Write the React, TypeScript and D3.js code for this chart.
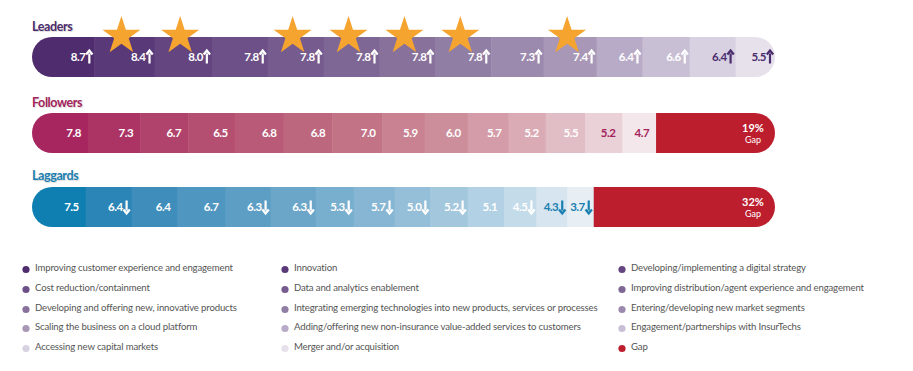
import React from "react";
import * as d3 from "d3";

const categories = [
  "Improving customer experience and engagement",
  "Innovation",
  "Developing/implementing a digital strategy",
  "Cost reduction/containment",
  "Data and analytics enablement",
  "Improving distribution/agent experience and engagement",
  "Developing and offering new, innovative products",
  "Integrating emerging technologies into new products, services or processes",
  "Entering/developing new market segments",
  "Scaling the business on a cloud platform",
  "Adding/offering new non-insurance value-added services to customers",
  "Engagement/partnerships with InsurTechs",
  "Accessing new capital markets",
  "Merger and/or acquisition",
];

const groups = ["Leaders", "Followers", "Laggards"];
const leaders = [8.7, 8.4, 8.0, 7.8, 7.8, 7.8, 7.8, 7.8, 7.3, 7.4, 6.4, 6.6, 6.4, 5.5];
const followers = [7.8, 7.3, 6.7, 6.5, 6.8, 6.8, 7.0, 5.9, 6.0, 5.7, 5.2, 5.5, 5.2, 4.7];
const laggards = [7.5, 6.4, 6.4, 6.7, 6.3, 6.3, 5.3, 5.7, 5.0, 5.2, 5.1, 4.5, 4.3, 3.7];
const leaderStars = [false, true, true, false, true, true, true, true, false, true, false, false, false, false];
const leaderArrows = ["up", "up", "up", "up", "up", "up", "up", "up", "up", "up", "up", "up", "up", "up"];
const followerArrows = ["", "", "", "", "", "", "", "", "", "", "", "", "", ""];
const laggardArrows = ["", "down", "", "", "down", "down", "down", "down", "down", "down", "", "down", "down", "down"];

const leaderColors = ["#4f2c6e", "#5a3978", "#644580", "#6d5087", "#765b8e", "#7f6795", "#88729c", "#917ea4", "#9c8aae", "#a897b7", "#b8abc7", "#c8bfd4", "#d8d1e1", "#e6e1eb"];
const followerColors = ["#a72660", "#ac3465", "#b0436b", "#b54f71", "#b95b78", "#bd677f", "#c27386", "#c88291", "#cd8e9b", "#d39ca8", "#daabb5", "#e1bdc5", "#ead1d8", "#f4e7eb"];
const laggardColors = ["#0e7fb0", "#2b85b6", "#3e8dbb", "#4f96c0", "#5d9ec4", "#6ba6c9", "#78aece", "#86b6d3", "#95bfd8", "#a3c7dd", "#b3d1e4", "#c4dbea", "#d6e5ef", "#e7eff5"];
const gapColor = "#bc1e2d";
const titleColors = ["#4b2c6d", "#a3245b", "#1a7fb0"];
const darkTextColors = ["#4b2c6d", "#a3245b", "#1a7fb0"];

export default function App() {
  const total = d3.sum(leaders);
  const x = d3.scaleLinear().domain([0, total]).range([32, 775]);
  const barH = 40;
  const barY = [37, 113, 187];
  const series = [leaders, followers, laggards];
  const colorsets = [leaderColors, followerColors, laggardColors];
  const arrows = [leaderArrows, followerArrows, laggardArrows];
  const starPath = d3.symbol().type(d3.symbolStar).size(450)() as string;

  const arrow = (cx: number, cy: number, dir: string, color: string, key: string) => {
    const top = cy - 6.5;
    const bot = cy + 6.5;
    const d =
      dir === "up"
        ? `M${cx},${bot} L${cx},${top + 3} M${cx - 3.2},${top + 4} L${cx},${top} L${cx + 3.2},${top + 4}`
        : `M${cx},${top} L${cx},${bot - 3} M${cx - 3.2},${bot - 4} L${cx},${bot} L${cx + 3.2},${bot - 4}`;
    return <path key={key} d={d} stroke={color} strokeWidth={2.2} fill="none" />;
  };

  const legendCols = [26, 285, 622];
  const legendRows = [268, 288, 308, 327, 347];
  const legendItems = categories.map((c, i) => ({ label: c, color: leaderColors[i] }));
  legendItems.push({ label: "Gap", color: gapColor });

  return (
    <svg width={913} height={371} style={{ position: "absolute", left: 0, top: 0, background: "#fff" }} fontFamily="Lato, 'Open Sans', sans-serif">
      <defs>
        {groups.map((g, gi) => (
          <clipPath id={`clip${gi}`} key={g}>
            <rect x={x(0)} y={barY[gi]} width={x(total) - x(0)} height={barH} rx={20} ry={20} />
          </clipPath>
        ))}
      </defs>
      {groups.map((g, gi) => {
        const vals = series[gi];
        const cols = colorsets[gi];
        const cum = d3.cumsum(vals);
        const starts = vals.map((v, i) => cum[i] - v);
        const sum = d3.sum(vals);
        const gap = total - sum;
        const cy = barY[gi] + barH / 2;
        return (
          <g key={g}>
            <text x={32} y={[31, 107, 180][gi]} fontSize={12.5} fontWeight={700} fill={titleColors[gi]} letterSpacing={-0.4} style={{ textShadow: "1px 1px 1px rgba(0,0,0,0.15)" }}>
              {g}
            </text>
            <g clipPath={`url(#clip${gi})`}>
              {vals.map((v, i) => (
                <rect key={i} x={x(starts[i])} y={barY[gi]} width={x(cum[i]) - x(starts[i]) + 0.5} height={barH} fill={cols[i]} />
              ))}
              {gap > 0.01 && <rect x={x(sum)} y={barY[gi]} width={x(total) - x(sum)} height={barH} fill={gapColor} />}
            </g>
            {vals.map((v, i) => {
              const end = x(cum[i]);
              const a = arrows[gi][i];
              const dark = i >= 12;
              const color = dark ? darkTextColors[gi] : "#ffffff";
              return (
                <g key={i}>
                  <text x={a ? end - 9 : end - 7} y={cy + 4} fontSize={11.5} fontWeight={700} fill={color} textAnchor="end" letterSpacing={-0.5}>
                    {v.toFixed(1)}
                  </text>
                  {a && arrow(end - 5, cy, a, color, `a${i}`)}
                </g>
              );
            })}
            {gap > 0.01 && (
              <g>
                <text x={x(total) - 22} y={cy - 1} fontSize={11} fontWeight={700} fill="#fff" textAnchor="middle">
                  {`${Math.round((gap / sum) * 100)}%`}
                </text>
                <text x={x(total) - 22} y={cy + 10} fontSize={9} fill="#fff" textAnchor="middle">
                  Gap
                </text>
              </g>
            )}
            {gi === 0 &&
              vals.map((v, i) =>
                leaderStars[i] ? (
                  <path key={`s${i}`} d={starPath} fill="#f5a52f" transform={`translate(${(x(starts[i]) + x(cum[i])) / 2 - 3},${36})`} />
                ) : null
              )}
          </g>
        );
      })}
      {legendItems.map((it, i) => {
        const col = i % 3;
        const row = Math.floor(i / 3);
        return (
          <g key={it.label}>
            <circle cx={legendCols[col]} cy={legendRows[row] + 1.5} r={3.6} fill={it.color} />
            <text x={legendCols[col] + 9} y={legendRows[row] + 3} fontSize={9.6} fill="#555" letterSpacing={-0.15}>
              {it.label}
            </text>
          </g>
        );
      })}
    </svg>
  );
}
